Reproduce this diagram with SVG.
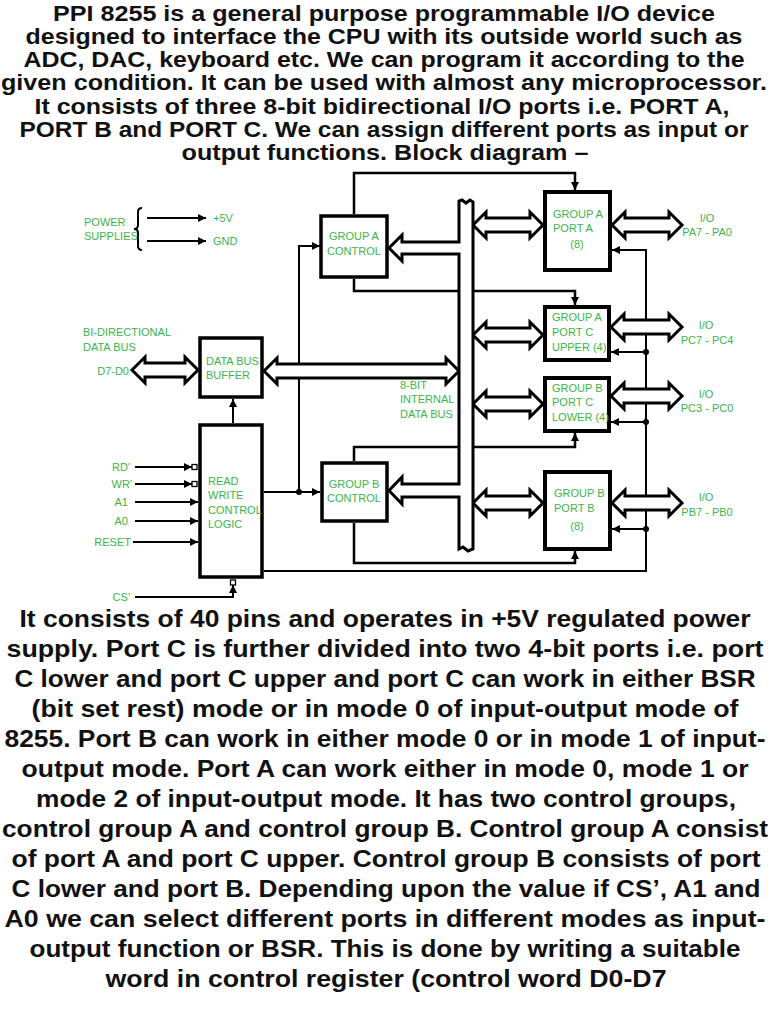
<svg xmlns="http://www.w3.org/2000/svg" width="768" height="1024" viewBox="0 0 768 1024">
<style>
.para{font-family:"Liberation Sans",Arial,sans-serif;font-weight:bold;font-size:24px;fill:#111;text-anchor:middle}
.hd{font-size:21.5px}
.lbl{font-family:"Liberation Sans",Arial,sans-serif;font-size:11px;fill:#3cb44b}
.mid{text-anchor:middle}
.end{text-anchor:end}
.box{fill:#fff;stroke:#000;stroke-width:3.5}
.pbox{fill:#fff;stroke:#000;stroke-width:4}
.ln{fill:none;stroke:#000;stroke-width:2}
.lnb{fill:none;stroke:#000;stroke-width:2.5}
.hol{fill:#fff;stroke:#000;stroke-width:3;stroke-linejoin:miter}
.dot{fill:#000}
.bub{fill:#fff;stroke:#000;stroke-width:1.3}
</style>
<defs>
<marker id="ah" viewBox="0 0 10 10" refX="10" refY="5" markerWidth="9" markerHeight="8" markerUnits="userSpaceOnUse" orient="auto">
<path d="M0,0 L10,5 L0,10 z" fill="#000"/>
</marker>
</defs>
<rect width="768" height="1024" fill="#fff"/>

<g id="header-text">
<text class="para hd" x="384" y="21" textLength="662" lengthAdjust="spacingAndGlyphs">PPI 8255 is a general purpose programmable I/O device</text>
<text class="para hd" x="384" y="44" textLength="717" lengthAdjust="spacingAndGlyphs">designed to interface the CPU with its outside world such as</text>
<text class="para hd" x="384" y="67" textLength="721" lengthAdjust="spacingAndGlyphs">ADC, DAC, keyboard etc. We can program it according to the</text>
<text class="para hd" x="384" y="90" textLength="766" lengthAdjust="spacingAndGlyphs">given condition. It can be used with almost any microprocessor.</text>
<text class="para hd" x="382" y="114" textLength="695" lengthAdjust="spacingAndGlyphs">It consists of three 8-bit bidirectional I/O ports i.e. PORT A,</text>
<text class="para hd" x="384" y="137" textLength="729" lengthAdjust="spacingAndGlyphs">PORT B and PORT C. We can assign different ports as input or</text>
<text class="para hd" x="385" y="160" textLength="407" lengthAdjust="spacingAndGlyphs">output functions. Block diagram –</text>
</g>

<g id="connectors">
<path class="ln" d="M142,208 Q138,208 138,212 L138,225 Q138,229 134,229 Q138,229 138,233 L138,246 Q138,250 142,250"/>
<line class="ln" x1="147" y1="218" x2="206" y2="218" marker-end="url(#ah)"/>
<line class="ln" x1="147" y1="241" x2="206" y2="241" stroke-width="3" marker-end="url(#ah)"/>
<polyline class="lnb" points="354,214 354,173 575,173 575,190" marker-end="url(#ah)"/>
<polyline class="lnb" points="354,279 354,291 575,291 575,305" marker-end="url(#ah)"/>
<polyline class="lnb" points="354,461 354,447 575,447 575,433" marker-end="url(#ah)"/>
<polyline class="lnb" points="354,523 354,563 575,563 575,551" marker-end="url(#ah)"/>
<line class="ln" x1="264" y1="492" x2="320" y2="492" marker-end="url(#ah)"/>
<polyline class="ln" points="299,492 299,246 320,246" marker-end="url(#ah)"/>
<circle class="dot" cx="299" cy="492" r="3"/>
<polyline class="ln" points="264,571 646,571 646,250 612,250" marker-end="url(#ah)"/>
<line class="ln" x1="646" y1="352" x2="611" y2="352" marker-end="url(#ah)"/>
<line class="ln" x1="646" y1="422" x2="611" y2="422" marker-end="url(#ah)"/>
<line class="ln" x1="646" y1="529" x2="612" y2="529" marker-end="url(#ah)"/>
<circle class="dot" cx="646" cy="352" r="3"/>
<circle class="dot" cx="646" cy="422" r="3"/>
<circle class="dot" cx="646" cy="529" r="3"/>
<line class="ln" x1="233" y1="423" x2="233" y2="399" marker-end="url(#ah)"/>
<line class="ln" x1="135" y1="467" x2="192" y2="467" marker-end="url(#ah)"/>
<rect class="bub" x="192" y="464.5" width="5" height="5"/>
<line class="ln" x1="135" y1="484" x2="192" y2="484" marker-end="url(#ah)"/>
<rect class="bub" x="192" y="481.5" width="5" height="5"/>
<line class="ln" x1="135" y1="502" x2="198" y2="502" marker-end="url(#ah)"/>
<line class="ln" x1="135" y1="521" x2="198" y2="521" marker-end="url(#ah)"/>
<line class="ln" x1="133" y1="542" x2="198" y2="542" marker-end="url(#ah)"/>
<polyline class="ln" points="135,597 233,597 233,585" marker-end="url(#ah)"/>
<rect class="bub" x="230.5" y="580" width="5" height="5"/>
<path class="hol" d="M132,370 L145,357 L145,363 L185,363 L185,357 L198,370 L185,383 L185,377 L145,377 L145,383 Z"/>
<path class="hol" d="M264,371 L277,358 L277,364 L446,364 L446,358 L459,371 L446,384 L446,378 L277,378 L277,384 Z"/>
<path class="hol" d="M473,225 L486,212 L486,218 L530,218 L530,212 L543,225 L530,238 L530,232 L486,232 L486,238 Z"/>
<path class="hol" d="M473,335 L486,322 L486,328 L530,328 L530,322 L543,335 L530,348 L530,342 L486,342 L486,348 Z"/>
<path class="hol" d="M473,404 L486,391 L486,397 L530,397 L530,391 L543,404 L530,417 L530,411 L486,411 L486,417 Z"/>
<path class="hol" d="M473,503 L486,490 L486,496 L530,496 L530,490 L543,503 L530,516 L530,510 L486,510 L486,516 Z"/>
<path class="hol" d="M612,225 L625,212 L625,218 L669,218 L669,212 L682,225 L669,238 L669,232 L625,232 L625,238 Z"/>
<path class="hol" d="M611,327 L624,314 L624,320 L669,320 L669,314 L682,327 L669,340 L669,334 L624,334 L624,340 Z"/>
<path class="hol" d="M611,396 L624,383 L624,389 L669,389 L669,383 L682,396 L669,409 L669,403 L624,403 L624,409 Z"/>
<path class="hol" d="M612,503 L625,490 L625,496 L669,496 L669,490 L682,503 L669,516 L669,510 L625,510 L625,516 Z"/>
</g>

<g id="internal-data-bus">
<path class="hol" stroke-width="3.5" d="M459,201 L459,242 L402,242 L402,235 L389,248 L402,261 L402,254 L459,254 L459,484 L402,484 L402,477 L389,490.5 L402,504 L402,497 L459,497 L459,549 L463,547 L468,551 L473,549 L473,202 L470,200 L466,203 L462,200 Z"/>
<text class="lbl" x="400" y="389">8-BIT</text>
<text class="lbl" x="400" y="403">INTERNAL</text>
<text class="lbl" x="400" y="418">DATA BUS</text>
</g>

<g id="power-supplies">
<text class="lbl" x="84" y="226">POWER</text>
<text class="lbl" x="84" y="240">SUPPLIES</text>
<text class="lbl" x="213" y="222">+5V</text>
<text class="lbl" x="213" y="245">GND</text>
</g>

<g id="data-bus-label">
<text class="lbl" x="83" y="336">BI-DIRECTIONAL</text>
<text class="lbl" x="83" y="351">DATA BUS</text>
<text class="lbl end" x="129" y="375">D7-D0</text>
</g>

<g id="control-inputs">
<text class="lbl end" x="130" y="471">RD'</text>
<text class="lbl end" x="132" y="488">WR'</text>
<text class="lbl end" x="128" y="506">A1</text>
<text class="lbl end" x="128" y="525">A0</text>
<text class="lbl end" x="131" y="546">RESET</text>
<text class="lbl end" x="130" y="601">CS'</text>
</g>

<g id="data-bus-buffer">
<rect class="box" x="200" y="338" width="62" height="59"/>
<text class="lbl" x="206" y="365">DATA BUS</text>
<text class="lbl" x="206" y="379">BUFFER</text>
</g>

<g id="read-write-control-logic">
<rect class="box" x="200" y="425" width="62" height="152"/>
<text class="lbl" x="208" y="485">READ</text>
<text class="lbl" x="208" y="499">WRITE</text>
<text class="lbl" x="208" y="514">CONTROL</text>
<text class="lbl" x="208" y="528">LOGIC</text>
</g>

<g id="group-a-control">
<rect class="box" x="321" y="216" width="66" height="61"/>
<text class="lbl mid" x="354" y="240">GROUP A</text>
<text class="lbl mid" x="354" y="255">CONTROL</text>
</g>

<g id="group-b-control">
<rect class="box" x="322" y="463" width="65" height="58"/>
<text class="lbl mid" x="354" y="488">GROUP B</text>
<text class="lbl mid" x="354" y="502">CONTROL</text>
</g>

<g id="port-a">
<rect class="pbox" x="545" y="192" width="65" height="78"/>
<text class="lbl" x="553" y="218">GROUP A</text>
<text class="lbl" x="553" y="232">PORT A</text>
<text class="lbl mid" x="577" y="248">(8)</text>
</g>

<g id="port-c-upper">
<rect class="pbox" x="545" y="307" width="64" height="53"/>
<text class="lbl" x="552" y="321">GROUP A</text>
<text class="lbl" x="552" y="336">PORT C</text>
<text class="lbl" x="552" y="351">UPPER (4)</text>
</g>

<g id="port-c-lower">
<rect class="pbox" x="545" y="378" width="64" height="53"/>
<text class="lbl" x="552" y="392">GROUP B</text>
<text class="lbl" x="552" y="406">PORT C</text>
<text class="lbl" x="552" y="421">LOWER (4)</text>
</g>

<g id="port-b">
<rect class="pbox" x="545" y="472" width="65" height="77"/>
<text class="lbl" x="554" y="497">GROUP B</text>
<text class="lbl" x="554" y="512">PORT B</text>
<text class="lbl mid" x="577" y="530">(8)</text>
</g>

<g id="io-labels">
<text class="lbl mid" x="707" y="222">I/O</text>
<text class="lbl mid" x="707" y="236">PA7 - PA0</text>
<text class="lbl mid" x="706" y="329">I/O</text>
<text class="lbl mid" x="707" y="344">PC7 - PC4</text>
<text class="lbl mid" x="706" y="398">I/O</text>
<text class="lbl mid" x="707" y="412">PC3 - PC0</text>
<text class="lbl mid" x="706" y="501">I/O</text>
<text class="lbl mid" x="707" y="516">PB7 - PB0</text>
</g>

<g id="body-text">
<text class="para" x="385" y="627" textLength="731" lengthAdjust="spacingAndGlyphs">It consists of 40 pins and operates in +5V regulated power</text>
<text class="para" x="385" y="657" textLength="757" lengthAdjust="spacingAndGlyphs">supply. Port C is further divided into two 4-bit ports i.e. port</text>
<text class="para" x="385" y="687" textLength="741" lengthAdjust="spacingAndGlyphs">C lower and port C upper and port C can work in either BSR</text>
<text class="para" x="385" y="717" textLength="707" lengthAdjust="spacingAndGlyphs">(bit set rest) mode or in mode 0 of input-output mode of</text>
<text class="para" x="385" y="747" textLength="761" lengthAdjust="spacingAndGlyphs">8255. Port B can work in either mode 0 or in mode 1 of input-</text>
<text class="para" x="385" y="777" textLength="727" lengthAdjust="spacingAndGlyphs">output mode. Port A can work either in mode 0, mode 1 or</text>
<text class="para" x="386" y="807" textLength="700" lengthAdjust="spacingAndGlyphs">mode 2 of input-output mode. It has two control groups,</text>
<text class="para" x="385" y="837" textLength="766" lengthAdjust="spacingAndGlyphs">control group A and control group B. Control group A consist</text>
<text class="para" x="386" y="867" textLength="749" lengthAdjust="spacingAndGlyphs">of port A and port C upper. Control group B consists of port</text>
<text class="para" x="386" y="897" textLength="749" lengthAdjust="spacingAndGlyphs">C lower and port B. Depending upon the value if CS’, A1 and</text>
<text class="para" x="385" y="927" textLength="761" lengthAdjust="spacingAndGlyphs">A0 we can select different ports in different modes as input-</text>
<text class="para" x="385" y="957" textLength="711" lengthAdjust="spacingAndGlyphs">output function or BSR. This is done by writing a suitable</text>
<text class="para" x="386" y="987" textLength="561" lengthAdjust="spacingAndGlyphs">word in control register (control word D0-D7</text>
</g>
</svg>
